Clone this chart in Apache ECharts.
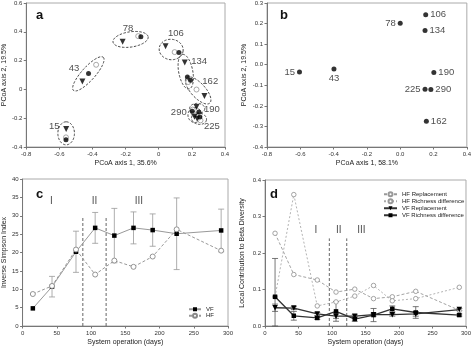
<!DOCTYPE html>
<html><head><meta charset="utf-8">
<script src="https://cdn.jsdelivr.net/npm/echarts@6/dist/echarts.min.js"></script>
<style>html,body{margin:0;padding:0;background:#fff}#c{width:474px;height:348px}</style>
</head><body><div id="c"></div>
<script>
// ---------- data ----------
const days = [15, 43, 78, 106, 134, 162, 190, 225, 290];
const dayNames = ['15', '43', '78', '106', '134', '162', '190', '225', '290'];

// panel a (per day: triangle, filled circle, open circle)
const aTriX = [-0.559, -0.461, -0.218, 0.041, 0.157, 0.276, 0.228, 0.232, 0.216];
const aTriY = [-0.275, 0.055, 0.331, 0.300, 0.186, -0.046, -0.122, -0.203, -0.190];
const aFillX = [-0.560, -0.424, -0.108, 0.122, 0.173, 0.192, 0.242, 0.248, 0.202];
const aFillY = [-0.350, 0.111, 0.365, 0.257, 0.086, 0.063, -0.157, -0.192, -0.152];
const aOpenX = [-0.560, -0.378, -0.124, 0.096, 0.178, 0.228, 0.205, 0.252, 0.212];
const aOpenY = [-0.333, 0.171, 0.370, 0.259, 0.051, -0.001, -0.140, -0.215, -0.170];
// ellipses: centre x, centre y, half major axis vector (dx, dy), minor/major ratio
const aEllCX = [-0.559, -0.425, -0.170, 0.075, 0.163, 0.238, 0.232, 0.243, 0.218];
const aEllCY = [-0.305, 0.108, 0.347, 0.277, 0.123, -0.007, -0.133, -0.203, -0.178];
const aEllDX = [0.0, 0.090, 0.106, 0.072, -0.020, 0.070, 0.046, 0.045, 0.0];
const aEllDY = [0.080, 0.115, 0.018, -0.010, 0.120, -0.088, 0.0, -0.010, 0.052];
const aEllR = [0.72, 0.30, 0.43, 0.85, 0.40, 0.42, 0.68, 0.75, 0.92];
const aLabelX = [-0.631, -0.512, -0.185, 0.103, 0.244, 0.311, 0.321, 0.321, 0.121];
const aLabelY = [-0.256, 0.144, 0.426, 0.390, 0.195, 0.056, -0.136, -0.256, -0.159];

// panel b
const bX = [-0.605, -0.398, 0.0, 0.153, 0.149, 0.157, 0.202, 0.149, 0.184];
const bY = [-0.036, -0.021, 0.201, 0.243, 0.166, -0.275, -0.038, -0.119, -0.120];
const bLabelSide = ['left', 'bottom', 'left', 'right', 'right', 'right', 'right', 'left', 'right'];

// panel c
const vfSimpson = [4.8, 10.7, 20.2, 26.7, 24.6, 26.7, 26.1, 25.1, 26.0];
const vfSimpsonErr = [0, 2.8, 5.6, 4.2, 7.4, 4.35, 4.4, 9.75, 5.8];
const hfSimpson = [8.7, 10.9, 20.8, 14.0, 17.8, 16.1, 18.9, 26.3, 20.5];
const cPhaseX = [88, 122];
const cPhaseTop = 29.5;
const romanLabels = ['I', 'II', 'III'];
const cRomanX = [42, 105, 170];
const cRomanY = 33.9;

// panel d
const hfRepl = [0.254, 0.141, 0.126, 0.093, 0.101, 0.075, 0.080, 0.095, 0.043];
const hfRich = [0.080, 0.360, 0.055, 0.066, 0.082, 0.111, 0.069, 0.075, 0.106];
const vfRepl = [0.050, 0.049, 0.033, 0.027, 0.027, 0.031, 0.031, 0.033, 0.045];
const vfReplErr = [0.010, 0.004, 0.004, 0.006, 0.004, 0.004, 0.004, 0.006, 0.003];
const vfRich = [0.080, 0.028, 0.022, 0.040, 0.019, 0.030, 0.047, 0.037, 0.030];
const vfRichErr = [0.105, 0.012, 0.004, 0.027, 0.006, 0.018, 0.008, 0.016, 0.003];
const dPhaseX = [96, 122];
const dPhaseTop = 0.24;
const dRomanX = [76, 110, 144];
const dRomanY = 0.263;

// tick labels
const aXTicks = ['-0.8', '-0.6', '-0.4', '-0.2', '0', '0.2', '0.4'];
const aYTicks = ['-0.4', '-0.2', '0', '0.2', '0.4', '0.6'];
const bXTicks = ['-0.8', '-0.6', '-0.4', '-0.2', '0.0', '0.2', '0.4'];
const bYTicks = ['-0.4', '-0.3', '-0.2', '-0.1', '0.0', '0.1', '0.2', '0.3'];
const cXTicks = ['0', '50', '100', '150', '200', '250', '300'];
const cYTicks = ['0', '5', '10', '15', '20', '25', '30', '35', '40'];
const dXTicks = ['0', '50', '100', '150', '200', '250', '300'];
const dYTicks = ['0.0', '0.1', '0.2', '0.3', '0.4'];

// ---------- chart ----------
const FONT = 'Arial, "Liberation Sans", sans-serif';
const axisCol = '#777';
function tickFmt(arr, min, step) {
  return v => { const i = Math.round((v - min) / step); return arr[i] !== undefined ? arr[i] : ''; };
}
function valAxis(gi, min, max, step, ticks, name, gap) {
  return {
    type: 'value', gridIndex: gi, min: min, max: max, interval: step,
    name: name, nameLocation: 'middle', nameGap: gap,
    nameTextStyle: { fontSize: 7, color: '#222', fontFamily: FONT },
    axisLine: { show: true, onZero: false, lineStyle: { color: axisCol, width: 1 } },
    axisTick: { show: true, length: 2.5, lineStyle: { color: axisCol } },
    axisLabel: { fontSize: 6, color: '#333', fontFamily: FONT, margin: 4, formatter: tickFmt(ticks, min, step) },
    splitLine: { show: false }
  };
}
function zip(xs, ys) { return xs.map((x, i) => [x, ys[i]]); }

function ellipseItem(params, api) {
  const cx = api.value(0), cy = api.value(1), dx = api.value(2), dy = api.value(3), r = api.value(4);
  const p0 = api.coord([cx, cy]);
  const p1 = api.coord([cx + dx, cy + dy]);
  const vx = p1[0] - p0[0], vy = p1[1] - p0[1];
  const a = Math.hypot(vx, vy), b = a * r;
  const ux = vx / a, uy = vy / a, nx = -uy, ny = ux;
  const pts = [];
  for (let k = 0; k < 64; k++) {
    const t = k / 64 * Math.PI * 2;
    const c = Math.cos(t) * a, s = Math.sin(t) * b;
    pts.push([p0[0] + c * ux + s * nx, p0[1] + c * uy + s * ny]);
  }
  return { type: 'polygon', shape: { points: pts }, style: { fill: 'none', stroke: '#333', lineWidth: 0.9, lineDash: [2.5, 1.5] } };
}
function errItem(params, api) {
  const x = api.value(0), lo = api.value(1), hi = api.value(2);
  const p1 = api.coord([x, hi]), p2 = api.coord([x, lo]);
  const w = 3, st = { stroke: api.value(3) ? '#555' : '#999', lineWidth: 0.8 };
  return { type: 'group', children: [
    { type: 'line', shape: { x1: p1[0], y1: p1[1], x2: p2[0], y2: p2[1] }, style: st },
    { type: 'line', shape: { x1: p1[0] - w, y1: p1[1], x2: p1[0] + w, y2: p1[1] }, style: st },
    { type: 'line', shape: { x1: p2[0] - w, y1: p2[1], x2: p2[0] + w, y2: p2[1] }, style: st }
  ]};
}
function vlineItem(params, api) {
  const p1 = api.coord([api.value(0), 0]), p2 = api.coord([api.value(0), api.value(1)]);
  return { type: 'line', shape: { x1: p1[0], y1: p1[1], x2: p2[0], y2: p2[1] }, style: { stroke: '#666', lineWidth: 1, lineDash: [3, 2] } };
}
function textScatter(xi, yi, data, size) {
  return {
    type: 'scatter', xAxisIndex: xi, yAxisIndex: yi, symbolSize: 1, silent: true,
    itemStyle: { color: 'rgba(0,0,0,0)' },
    label: { show: true, position: 'inside', formatter: p => p.data[2], fontSize: size, color: '#222', fontFamily: FONT },
    data: data, z: 5
  };
}

const gridBase = { show: true, borderColor: '#aaa', borderWidth: 1, backgroundColor: 'transparent' };
const legendText = { fontSize: 6, color: '#222', fontFamily: FONT, lineHeight: 6.5 };
const option = {
  animation: false,
  backgroundColor: '#fff',
  title: [
    { text: 'a', left: 31, top: 4, textStyle: { fontSize: 13, fontWeight: 'bold', color: '#111', fontFamily: FONT } },
    { text: 'b', left: 275, top: 4, textStyle: { fontSize: 13, fontWeight: 'bold', color: '#111', fontFamily: FONT } },
    { text: 'c', left: 31, top: 183, textStyle: { fontSize: 13, fontWeight: 'bold', color: '#111', fontFamily: FONT } },
    { text: 'd', left: 265, top: 183, textStyle: { fontSize: 13, fontWeight: 'bold', color: '#111', fontFamily: FONT } }
  ],
  grid: [
    Object.assign({ left: 23, top: 3, width: 202, height: 144 }, gridBase),
    Object.assign({ left: 267, top: 2, width: 201, height: 145 }, gridBase),
    Object.assign({ left: 22, top: 179, width: 206, height: 147 }, gridBase),
    Object.assign({ left: 265, top: 180, width: 201, height: 146 }, gridBase)
  ],
  xAxis: [
    valAxis(0, -0.8, 0.4, 0.2, aXTicks, 'PCoA axis 1, 35.6%', 13),
    valAxis(1, -0.8, 0.4, 0.2, bXTicks, 'PCoA axis 1, 58.1%', 13),
    valAxis(2, 0, 300, 50, cXTicks, 'System operation (days)', 13),
    valAxis(3, 0, 300, 50, dXTicks, 'System operation (days)', 13)
  ],
  yAxis: [
    valAxis(0, -0.4, 0.6, 0.2, aYTicks, 'PCoA axis 2, 19.5%', 16),
    valAxis(1, -0.4, 0.3, 0.1, bYTicks, 'PCoA axis 2, 19.5%', 19),
    valAxis(2, 0, 40, 5, cYTicks, 'Inverse Simpson Index', 13),
    valAxis(3, 0, 0.4, 0.1, dYTicks, 'Local Contribution to Beta Diversity', 19)
  ],
  legend: [
    { orient: 'vertical', left: 188, top: 306, itemWidth: 12, itemHeight: 5, itemGap: 0, padding: 0,
      textStyle: legendText, data: ['VF', 'HF'] },
    { orient: 'vertical', left: 383, top: 191, itemWidth: 13, itemHeight: 5, itemGap: 0.5, padding: 0,
      textStyle: legendText,
      data: ['HF Replacement', 'HF Richness difference', 'VF Replacement', 'VF Richness difference'] }
  ],
  series: [
    // ---- panel a ----
    { type: 'custom', xAxisIndex: 0, yAxisIndex: 0, renderItem: ellipseItem, silent: true,
      data: aEllCX.map((x, i) => [x, aEllCY[i], aEllDX[i], aEllDY[i], aEllR[i]]) },
    { type: 'scatter', xAxisIndex: 0, yAxisIndex: 0, symbol: 'circle', symbolSize: 5,
      itemStyle: { color: '#fff', borderColor: '#888', borderWidth: 0.9 }, data: zip(aOpenX, aOpenY) },
    { type: 'scatter', xAxisIndex: 0, yAxisIndex: 0, symbol: 'circle', symbolSize: 5,
      itemStyle: { color: '#000' }, data: zip(aFillX, aFillY) },
    { type: 'scatter', xAxisIndex: 0, yAxisIndex: 0, symbol: 'triangle', symbolRotate: 180, symbolSize: 6,
      itemStyle: { color: '#000' }, data: zip(aTriX, aTriY) },
    textScatter(0, 0, aLabelX.map((x, i) => [x, aLabelY[i], dayNames[i]]), 9.5),
    // ---- panel b ----
    { type: 'scatter', xAxisIndex: 1, yAxisIndex: 1, symbol: 'circle', symbolSize: 5,
      itemStyle: { color: '#000' },
      data: bX.map((x, i) => ({ value: [x, bY[i]], label: { show: true, position: bLabelSide[i], distance: 2,
        formatter: dayNames[i], fontSize: 9.5, color: '#222', fontFamily: FONT } })) },
    // ---- panel c ----
    { type: 'custom', xAxisIndex: 2, yAxisIndex: 2, renderItem: vlineItem, silent: true,
      data: cPhaseX.map(x => [x, cPhaseTop]) },
    { type: 'custom', xAxisIndex: 2, yAxisIndex: 2, renderItem: errItem, silent: true, z: 1,
      data: days.map((d, i) => [d, vfSimpson[i] - vfSimpsonErr[i], vfSimpson[i] + vfSimpsonErr[i], 0]).filter((r, i) => vfSimpsonErr[i] > 0) },
    { name: 'VF', type: 'line', xAxisIndex: 2, yAxisIndex: 2, symbol: 'rect', symbolSize: 4.5,
      lineStyle: { color: '#999', width: 1 }, itemStyle: { color: '#000' }, data: zip(days, vfSimpson), z: 3 },
    { name: 'HF', type: 'line', xAxisIndex: 2, yAxisIndex: 2, symbol: 'circle', symbolSize: 5,
      lineStyle: { color: '#999', width: 1, type: [3, 2] }, itemStyle: { color: '#fff', borderColor: '#888', borderWidth: 0.9 },
      data: zip(days, hfSimpson), z: 3 },
    textScatter(2, 2, cRomanX.map((x, i) => [x, cRomanY, romanLabels[i]]), 10),
    // ---- panel d ----
    { type: 'custom', xAxisIndex: 3, yAxisIndex: 3, renderItem: vlineItem, silent: true,
      data: dPhaseX.map(x => [x, dPhaseTop]) },
    { type: 'custom', xAxisIndex: 3, yAxisIndex: 3, renderItem: errItem, silent: true, z: 1,
      data: days.map((d, i) => [d, Math.max(0, vfRich[i] - vfRichErr[i]), vfRich[i] + vfRichErr[i], 1])
        .concat(days.map((d, i) => [d, vfRepl[i] - vfReplErr[i], vfRepl[i] + vfReplErr[i], 1])) },
    { name: 'HF Replacement', type: 'line', xAxisIndex: 3, yAxisIndex: 3, symbol: 'circle', symbolSize: 4.5,
      lineStyle: { color: '#999', width: 0.9, type: [3, 2] }, itemStyle: { color: '#fff', borderColor: '#999', borderWidth: 0.9 },
      data: zip(days, hfRepl), z: 3 },
    { name: 'HF Richness difference', type: 'line', xAxisIndex: 3, yAxisIndex: 3, symbol: 'circle', symbolSize: 4.5,
      lineStyle: { color: '#aaa', width: 0.9, type: [2, 2] }, itemStyle: { color: '#fff', borderColor: '#999', borderWidth: 0.9 },
      data: zip(days, hfRich), z: 3 },
    { name: 'VF Replacement', type: 'line', xAxisIndex: 3, yAxisIndex: 3, symbol: 'triangle', symbolRotate: 180, symbolSize: 5.5,
      lineStyle: { color: '#333', width: 1.3 }, itemStyle: { color: '#000' }, data: zip(days, vfRepl), z: 4 },
    { name: 'VF Richness difference', type: 'line', xAxisIndex: 3, yAxisIndex: 3, symbol: 'rect', symbolSize: 4.5,
      lineStyle: { color: '#333', width: 1.3 }, itemStyle: { color: '#000' }, data: zip(days, vfRich), z: 4 },
    textScatter(3, 3, dRomanX.map((x, i) => [x, dRomanY, romanLabels[i]]), 10)
  ]
};
const chart = echarts.init(document.getElementById('c'), null, { renderer: 'canvas' });
chart.setOption(option);
</script></body></html>
